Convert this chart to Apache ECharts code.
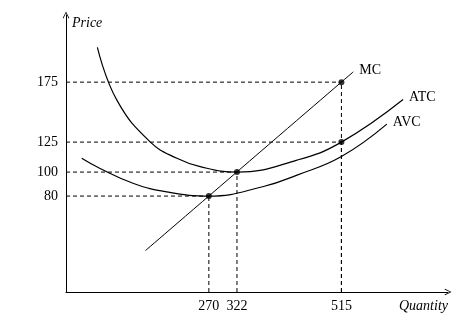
<!DOCTYPE html>
<html>
<head>
<meta charset="utf-8">
<script src="https://cdn.jsdelivr.net/npm/echarts@6/dist/echarts.min.js"></script>
<style>
  html, body { margin: 0; padding: 0; background: #fff; }
  #chart { width: 471px; height: 325px; }
</style>
</head>
<body>
<div id="chart"></div>
<script>
// tick labels
const xTicks = [270, 322, 515]
const yTicks = [80, 100, 125, 175]

// cost curves
const mc = [[153, 34.6], [537, 183.6]]
const atc = [[64, 204], [100, 160], [162, 125], [211, 111.5], [254, 104.5], [322, 100],
  [433, 110], [515, 125], [629, 160.5]]
const avc = [[35, 111.5], [69, 103], [131, 90.5], [192, 83.5], [270, 80],
  [371, 88], [433, 97.5], [515, 113], [599, 140]]

// marked points
const points = [[270, 80], [322, 100], [515, 125], [515, 175]]

const xMin = 6
const xMax = 712
const yMax = 231

const font = 'Liberation Serif'
const chevron = 'path://M0,10L5,0L10,10L9,10.8L5,2.4L1,10.8Z'
const chart = echarts.init(document.getElementById('chart'))

const curve = (name, data, width) => ({
  name: name,
  type: 'line',
  data: data,
  smooth: 0.45,
  symbol: 'none',
  lineStyle: { color: '#000', width: width },
  endLabel: {
    show: true,
    formatter: name,
    color: '#000',
    fontFamily: font,
    fontSize: 14,
    distance: 6,
    offset: [0, -2]
  },
  silent: true,
  z: 3
})

const guides = []
points.forEach(p => {
  guides.push([[xMin, p[1]], [p[0], p[1]]])
  guides.push([[p[0], 0], [p[0], p[1]]])
})

const guideSeries = guides.map(g => ({
  type: 'line',
  data: g,
  symbol: 'none',
  lineStyle: { color: '#000', width: 1, type: [4, 3] },
  silent: true,
  z: 2
}))

chart.setOption({
  animation: false,
  grid: { left: 66, right: 23, top: 15, bottom: 33 },
  xAxis: {
    type: 'value',
    min: xMin,
    max: xMax,
    name: 'Quantity',
    nameLocation: 'end',
    nameGap: 0,
    nameTextStyle: {
      fontFamily: font, fontStyle: 'italic', fontSize: 14, color: '#000',
      align: 'right', verticalAlign: 'top', padding: [7, 0, 0, 0]
    },
    splitLine: { show: false },
    axisTick: { show: false },
    axisLine: {
      lineStyle: { color: '#000', width: 1 },
      symbol: ['none', chevron],
      symbolSize: [8, 7]
    },
    axisLabel: {
      customValues: xTicks,
      fontFamily: font, fontSize: 14, color: '#000', margin: 7
    }
  },
  yAxis: {
    type: 'value',
    min: 0,
    max: yMax,
    name: 'Price',
    nameLocation: 'end',
    nameGap: -8,
    nameTextStyle: {
      fontFamily: font, fontStyle: 'italic', fontSize: 14, color: '#000',
      align: 'left', verticalAlign: 'middle', padding: [0, 0, 0, 6]
    },
    splitLine: { show: false },
    axisTick: { show: false },
    axisLine: {
      lineStyle: { color: '#000', width: 1 },
      symbol: ['none', chevron],
      symbolSize: [8, 7]
    },
    axisLabel: {
      customValues: yTicks,
      fontFamily: font, fontSize: 14, color: '#000', margin: 8
    }
  },
  series: [
    ...guideSeries,
    curve('MC', mc, 1),
    curve('ATC', atc, 1.2),
    curve('AVC', avc, 1.2),
    {
      type: 'scatter',
      data: points,
      symbol: 'circle',
      symbolSize: 6,
      itemStyle: { color: '#000' },
      silent: true,
      z: 4
    }
  ]
})
</script>
</body>
</html>
